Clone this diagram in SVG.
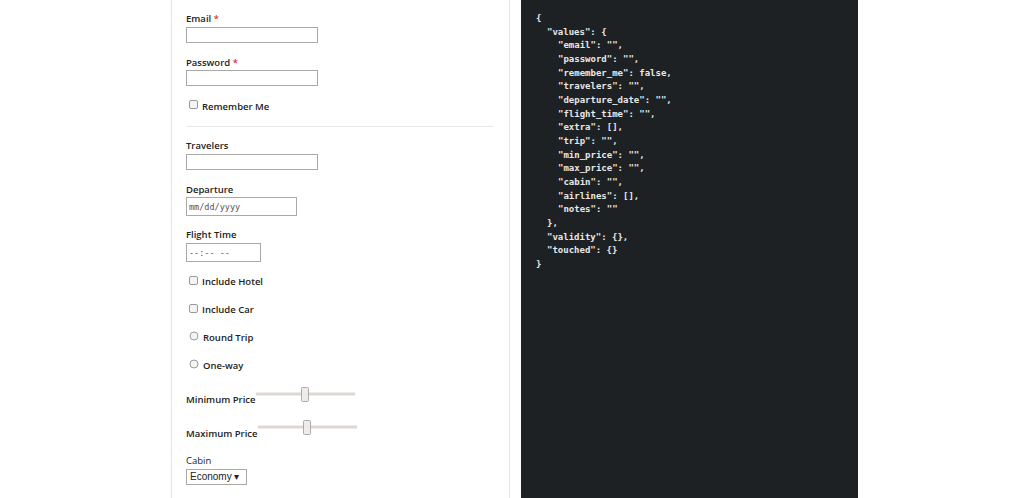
<svg xmlns="http://www.w3.org/2000/svg" width="1024" height="498" viewBox="0 0 1024 498">
<style>
.l{font-family:"Open Sans","Liberation Sans",sans-serif;font-size:9.5px;font-weight:600;fill:#222}
.in{fill:#fff;stroke:#a9a9a9;stroke-width:1}
.ph{font-family:"DejaVu Sans Mono",monospace;font-size:8.5px;fill:#555}
.c{font-family:"DejaVu Sans Mono","Liberation Mono",monospace;font-size:9px;font-weight:bold;fill:#e8e8e8;white-space:pre}
.cb{fill:#f4f4f4;stroke:#9a9a9a}
.st{fill:#e03030}
.tr{stroke:#ddd8d2;stroke-width:3}
.th{fill:#efece8;stroke:#9a9a9a;stroke-width:.8}
</style>
<rect width="1024" height="498" fill="#fff"/>
<g id="form">
<rect x="171.5" y="-5" width="338" height="510" rx="4" fill="#fff" stroke="#e4e4e4"/>
<text class="l" x="186" y="22">Email <tspan class="st">*</tspan></text>
<rect class="in" x="186.5" y="27.5" width="131" height="15"/>
<text class="l" x="186" y="66">Password <tspan class="st">*</tspan></text>
<rect class="in" x="186.5" y="70.5" width="131" height="15"/>
<rect class="cb" x="189.5" y="100.5" width="8" height="8" rx="1.5"/>
<text class="l" x="202" y="110">Remember Me</text>
<line x1="186" y1="126.5" x2="494" y2="126.5" stroke="#e8e8e8"/>
<text class="l" x="186" y="149">Travelers</text>
<rect class="in" x="186.5" y="154.5" width="131" height="15"/>
<text class="l" x="186" y="193">Departure</text>
<rect class="in" x="186.5" y="197.5" width="110" height="18"/>
<text class="ph" x="189" y="210">mm/dd/yyyy</text>
<text class="l" x="186" y="238">Flight Time</text>
<rect class="in" x="186.5" y="243.5" width="74" height="18"/>
<text class="ph" x="189" y="256">--:-- --</text>
<rect class="cb" x="189.5" y="276.5" width="8" height="8" rx="1.5"/>
<text class="l" x="202" y="285">Include Hotel</text>
<rect class="cb" x="189.5" y="304.5" width="8" height="8" rx="1.5"/>
<text class="l" x="202" y="313">Include Car</text>
<circle class="cb" cx="194" cy="336" r="4"/>
<text class="l" x="203" y="341">Round Trip</text>
<circle class="cb" cx="194" cy="364" r="4"/>
<text class="l" x="203" y="369">One-way</text>
<text class="l" x="186" y="403">Minimum Price</text>
<line class="tr" x1="256" y1="394" x2="355" y2="394"/>
<rect class="th" x="301.5" y="387.5" width="7" height="14" rx="1"/>
<text class="l" x="186" y="437">Maximum Price</text>
<line class="tr" x1="258" y1="427" x2="357" y2="427"/>
<rect class="th" x="303.5" y="420.5" width="7" height="14" rx="1"/>
<text class="l" x="186" y="464" style="font-weight:400">Cabin</text>
<rect x="186.5" y="469.5" width="60" height="15" fill="#fff" stroke="#a9a9a9"/>
<text x="190" y="480" style="font-family:'Liberation Sans',sans-serif;font-size:10px;fill:#222">Economy ▾</text>
</g>
<g id="state">
<path d="M521,-5 H854 a4,4 0 0 1 4,4 V498 H521 Z" fill="#1e2124"/>
<text class="c" x="536" y="21">{</text>
<text class="c" x="547" y="35">"values": {</text>
<text class="c" x="558" y="48">"email": "",</text>
<text class="c" x="558" y="62">"password": "",</text>
<text class="c" x="558" y="76">"remember_me": false,</text>
<text class="c" x="558" y="89">"travelers": "",</text>
<text class="c" x="558" y="103">"departure_date": "",</text>
<text class="c" x="558" y="117">"flight_time": "",</text>
<text class="c" x="558" y="130">"extra": [],</text>
<text class="c" x="558" y="144">"trip": "",</text>
<text class="c" x="558" y="158">"min_price": "",</text>
<text class="c" x="558" y="171">"max_price": "",</text>
<text class="c" x="558" y="185">"cabin": "",</text>
<text class="c" x="558" y="199">"airlines": [],</text>
<text class="c" x="558" y="212">"notes": ""</text>
<text class="c" x="547" y="226">},</text>
<text class="c" x="547" y="240">"validity": {},</text>
<text class="c" x="547" y="253">"touched": {}</text>
<text class="c" x="536" y="267">}</text>
</g>
</svg>
